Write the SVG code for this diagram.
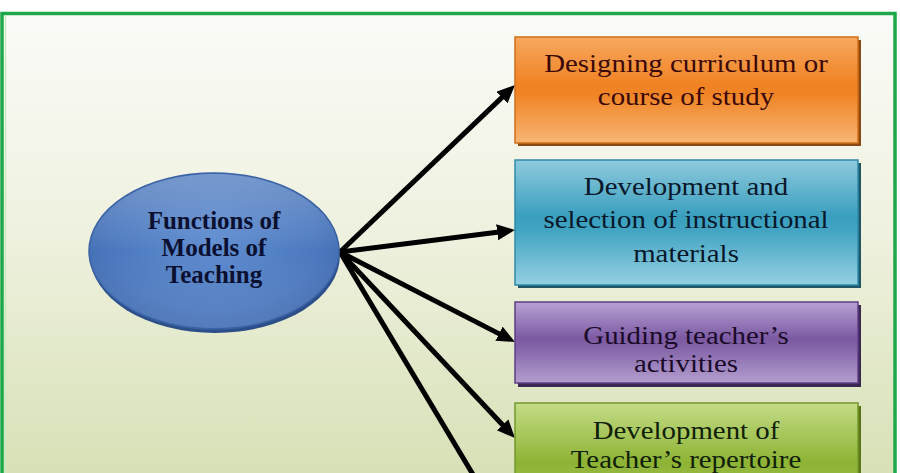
<svg xmlns="http://www.w3.org/2000/svg" width="900" height="473" viewBox="0 0 900 473">
<style>
.box{stroke-width:1.5}
.bt{font-family:"Liberation Serif","Times New Roman",serif;font-size:26px;text-anchor:middle}
.et{font-family:"Liberation Serif","Times New Roman",serif;font-size:25px;font-weight:bold;text-anchor:middle;fill:#0b1030}
.conn{stroke:#000;stroke-width:5;fill:none}
</style>
<defs>
<linearGradient id="bg" x1="0" y1="0" x2="0" y2="1">
<stop offset="0" stop-color="#fbfbf8"/>
<stop offset="0.45" stop-color="#eef1de"/>
<stop offset="1" stop-color="#d3deaf"/>
</linearGradient>
<linearGradient id="gOr" x1="0" y1="0" x2="0" y2="1">
<stop offset="0" stop-color="#f7a860"/>
<stop offset="0.45" stop-color="#f08222"/>
<stop offset="0.55" stop-color="#f08526"/>
<stop offset="1" stop-color="#f8b575"/>
</linearGradient>
<linearGradient id="gBl" x1="0" y1="0" x2="0" y2="1">
<stop offset="0" stop-color="#8fcadd"/>
<stop offset="0.45" stop-color="#3a9fbf"/>
<stop offset="0.55" stop-color="#40a3c2"/>
<stop offset="1" stop-color="#95d0e2"/>
</linearGradient>
<linearGradient id="gPu" x1="0" y1="0" x2="0" y2="1">
<stop offset="0" stop-color="#b8a2d4"/>
<stop offset="0.45" stop-color="#7c5aa3"/>
<stop offset="0.55" stop-color="#8262a8"/>
<stop offset="1" stop-color="#b49fcf"/>
</linearGradient>
<linearGradient id="gGr" x1="0" y1="0" x2="0" y2="1">
<stop offset="0" stop-color="#c4dc86"/>
<stop offset="0.6" stop-color="#8db334"/>
<stop offset="1" stop-color="#a6c65a"/>
</linearGradient>
<radialGradient id="gEl" cx="0.5" cy="0.45" r="0.6">
<stop offset="0" stop-color="#5f8dd0"/>
<stop offset="0.7" stop-color="#4b78be"/>
<stop offset="1" stop-color="#3e68ad"/>
</radialGradient>
<linearGradient id="gElHi" x1="0" y1="0" x2="0" y2="1">
<stop offset="0" stop-color="#ffffff" stop-opacity="0.25"/>
<stop offset="0.5" stop-color="#ffffff" stop-opacity="0"/>
<stop offset="1" stop-color="#ffffff" stop-opacity="0.1"/>
</linearGradient>
<marker id="ah" markerUnits="userSpaceOnUse" markerWidth="20" markerHeight="18" refX="8" refY="8" orient="auto">
<path d="M0,0 L18,8 L0,16 z" fill="#000"/>
</marker>
</defs>

<rect x="0" y="0" width="900" height="473" fill="#ffffff"/>
<rect id="frame" x="2" y="13.5" width="893" height="500" fill="url(#bg)" stroke="#1ea84a" stroke-width="3.5"/>
<line x1="5.5" y1="16" x2="5.5" y2="473" stroke="#c8ecc0" stroke-width="1.5"/>

<g id="connectors">
<line class="conn" x1="340" y1="252" x2="507.8" y2="91.9" marker-end="url(#ah)"/>
<line class="conn" x1="340" y1="252" x2="505.1" y2="231.2" marker-end="url(#ah)"/>
<line class="conn" x1="340" y1="252" x2="506.1" y2="337.4" marker-end="url(#ah)"/>
<line class="conn" x1="340" y1="252" x2="508.1" y2="430.7" marker-end="url(#ah)"/>
<line class="conn" x1="340" y1="252" x2="490" y2="503"/>
</g>

<g id="center">
<ellipse cx="215" cy="255" rx="125" ry="78" fill="#2c4f8a"/>
<ellipse cx="214" cy="251" rx="125" ry="78" fill="url(#gEl)" stroke="#3a62a4" stroke-width="1.5"/>
<ellipse cx="214" cy="251" rx="124" ry="77" fill="url(#gElHi)"/>
<text class="et" x="214" y="229">Functions of</text>
<text class="et" x="214" y="256">Models of</text>
<text class="et" x="214" y="283">Teaching</text>
</g>

<g id="box1">
<rect x="518" y="40" width="343" height="106" fill="#8a4812"/>
<rect class="box" x="515" y="37" width="343" height="106" fill="url(#gOr)" stroke="#d06e18"/>
<g transform="translate(686 0) scale(1.11 1)" fill="#3a0808">
<text class="bt" x="0" y="72">Designing curriculum or</text>
<text class="bt" x="0" y="105">course of study</text>
</g>
</g>

<g id="box2">
<rect x="518" y="163" width="343" height="125" fill="#1e5666"/>
<rect class="box" x="515" y="160" width="343" height="125" fill="url(#gBl)" stroke="#2f8aa8"/>
<g transform="translate(686 0) scale(1.11 1)" fill="#08182a">
<text class="bt" x="0" y="195">Development and</text>
<text class="bt" x="0" y="228">selection of instructional</text>
<text class="bt" x="0" y="262">materials</text>
</g>
</g>

<g id="box3">
<rect x="518" y="305" width="343" height="82" fill="#3a2852"/>
<rect class="box" x="515" y="302" width="343" height="81" fill="url(#gPu)" stroke="#5e3e84"/>
<g transform="translate(686 0) scale(1.11 1)" fill="#1a0a28">
<text class="bt" x="0" y="344">Guiding teacher’s</text>
<text class="bt" x="0" y="372">activities</text>
</g>
</g>

<g id="box4">
<rect x="518" y="406" width="343" height="100" fill="#5a7418"/>
<rect class="box" x="515" y="403" width="343" height="100" fill="url(#gGr)" stroke="#76982a"/>
<g transform="translate(686 0) scale(1.11 1)" fill="#102008">
<text class="bt" x="0" y="439">Development of</text>
<text class="bt" x="0" y="468">Teacher’s repertoire</text>
</g>
</g>
</svg>
